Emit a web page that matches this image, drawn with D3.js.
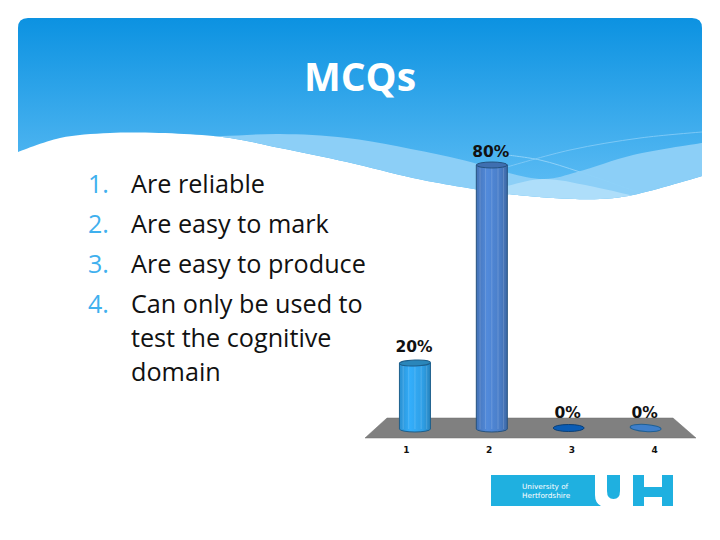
<!DOCTYPE html>
<html>
<head>
<meta charset="utf-8">
<script src="https://cdn.jsdelivr.net/npm/d3@7"></script>
<style>
	html, body { margin: 0; padding: 0; background: #fff; }
	svg { display: block; }
	text { font-family: "Open Sans", sans-serif; }
</style>
</head>
<body>
<svg id="slide" width="720" height="540"></svg>
<script>
// Chart data
const categories = ["1", "2", "3", "4"];
const percents = [20, 80, 0, 0];
const barColors = ["#2f9fe6", "#4a7ec8", "#0a5cb5", "#3f7fca"];
const barEdges = ["#1d5f8c", "#25527f", "#0b3f75", "#1f5f94"];
const barTops = ["#2a86ba", "#3f6fb0", "#0a5cb5", "#3f7fca"];
const capTilts = [-2, 0, 0, 4];
const labelGaps = [11, 8.5, 11, 11];

// Slide text
const title = "MCQs";
const listNumbers = ["1.", "2.", "3.", "4."];
const listLines = [
	["Are reliable"],
	["Are easy to mark"],
	["Are easy to produce"],
	["Can only be used to", "test the cognitive", "domain"]
];
const ridgeOffsets = [0.12, 0.3, 0.5, 0.7, 0.88];

const svg = d3.select("#slide");
const defs = svg.append("defs");

/* Header */
const headerGradient = defs.append("linearGradient")
	.attr("id", "headerGradient")
	.attr("gradientUnits", "userSpaceOnUse")
	.attr("x1", 0).attr("y1", 18).attr("x2", 0).attr("y2", 190);
headerGradient.append("stop").attr("offset", 0).attr("stop-color", "#0c92e1");
headerGradient.append("stop").attr("offset", 1).attr("stop-color", "#5cbcf4");

const curve = d3.line().curve(d3.curveCatmullRom.alpha(0.5));

const lowerEdge = [[18, 152], [60, 138], [110, 133], [184, 134], [230, 138], [280, 148], [347, 162], [413, 178], [450, 185], [507, 194], [553, 198], [600, 199], [633, 195], [702, 176]];
const upperEdge = [[185, 136], [222, 136], [280, 134], [347, 138], [450, 157], [543, 179]];
const riseEdge = [[543, 179], [577, 172], [633, 155], [702, 143]];

const headerPath = "M18,28 Q18,18 28,18 L692,18 Q702,18 702,28 L702,176 " +
	curve(lowerEdge.slice().reverse()).replace(/^M[^CL]*/, "") + " Z";
svg.append("path").attr("d", headerPath).attr("fill", "url(#headerGradient)");

defs.append("clipPath").attr("id", "headerClip")
	.append("path").attr("d", headerPath);
const waves = svg.append("g").attr("clip-path", "url(#headerClip)");

// Pale band running under the darker header colour
const bandTop = upperEdge.concat(riseEdge.slice(1));
waves.append("path")
	.attr("d", curve(bandTop) + " L702,220 L185,220 Z")
	.attr("fill", "#8ccff7");
waves.append("path")
	.attr("d", curve([[470, 196], [507, 186], [543, 179], [590, 186], [650, 200]]) + " L650,220 L470,220 Z")
	.attr("fill", "#aedefa");
waves.append("path")
	.attr("d", curve([[507, 167], [570, 150], [640, 138], [702, 132]]))
	.attr("fill", "none").attr("stroke", "#7cc8f6").attr("stroke-width", 1);
waves.append("path")
	.attr("d", curve([[507, 155], [540, 160], [580, 172], [640, 193]]))
	.attr("fill", "none").attr("stroke", "#8ed1f8").attr("stroke-width", 1);

svg.append("text")
	.attr("x", 360).attr("y", 91)
	.attr("text-anchor", "middle")
	.attr("fill", "#fff")
	.attr("font-size", 39)
	.attr("font-weight", 700)
	.text(title);

/* List */
const lineStep = 34;
const itemTops = [193, 233, 273, 313];
const list = svg.append("g").selectAll("g")
	.data(listLines)
	.join("g")
	.attr("transform", function(d, i) { return "translate(0," + itemTops[i] + ")"; });
list.append("text")
	.attr("x", 88)
	.attr("fill", "#3fb0ee")
	.attr("font-size", 25)
	.text(function(d, i) { return listNumbers[i]; });
list.selectAll(".row")
	.data(function(d) { return d; })
	.join("text")
	.classed("row", true)
	.attr("x", 131)
	.attr("y", function(d, i) { return i * lineStep; })
	.attr("fill", "#111")
	.attr("font-size", 25.2)
	.text(function(d) { return d; });

/* Chart */
const xBars = d3.scaleBand().domain(categories).range([376.5, 684]);
const xTicks = d3.scaleBand().domain(categories).range([365, 696]);
const yScale = d3.scaleLinear().domain([0, 80]).range([429, 165]);
const barWidth = 31;
const capRy = 3;

svg.append("polygon")
	.attr("points", [[365, 438], [387, 418], [673, 418], [696, 438]].join(" "))
	.attr("fill", "#808080")
	.attr("stroke", "#6c6c6c")
	.attr("stroke-width", 0.5);

categories.forEach(function(c, i) {
	const gradient = defs.append("linearGradient").attr("id", "barGradient" + i);
	const base = d3.color(barColors[i]);
	gradient.append("stop").attr("offset", 0).attr("stop-color", base.darker(0.25));
	gradient.append("stop").attr("offset", 0.35).attr("stop-color", base.brighter(0.25));
	gradient.append("stop").attr("offset", 0.75).attr("stop-color", base);
	gradient.append("stop").attr("offset", 1).attr("stop-color", base.darker(0.5));
});

const bars = svg.append("g").selectAll("g")
	.data(percents.map(function(v, i) { return { key: categories[i], value: v, i: i }; }))
	.join("g")
	.attr("transform", function(d) { return "translate(" + (xBars(d.key) + xBars.bandwidth() / 2) + ",0)"; });

// Cylinders for the non-zero values
bars.filter(function(d) { return d.value > 0; })
	.append("path")
	.attr("d", function(d) {
		const r = barWidth / 2;
		return "M" + (-r) + "," + yScale(d.value) +
			" L" + (-r) + "," + yScale(0) +
			" A" + r + "," + capRy + " 0 0 0 " + r + "," + yScale(0) +
			" L" + r + "," + yScale(d.value) + " Z";
	})
	.attr("fill", function(d) { return "url(#barGradient" + d.i + ")"; })
	.attr("stroke", function(d) { return barEdges[d.i]; })
	.attr("stroke-width", 1);

bars.filter(function(d) { return d.value > 0; })
	.selectAll(".ridge")
	.data(function(d) { return ridgeOffsets.map(function(o) { return { o: o, value: d.value }; }); })
	.join("line")
	.classed("ridge", true)
	.attr("x1", function(d) { return (d.o - 0.5) * barWidth; })
	.attr("x2", function(d) { return (d.o - 0.5) * barWidth; })
	.attr("y1", function(d) { return yScale(d.value) + capRy; })
	.attr("y2", yScale(0))
	.attr("stroke", "#fff")
	.attr("stroke-opacity", 0.16)
	.attr("stroke-width", 1);

bars.append("ellipse")
	.attr("cy", function(d) { return yScale(d.value) - (d.value > 0 ? 0 : 1); })
	.attr("rx", barWidth / 2)
	.attr("ry", function(d) { return d.value > 0 ? capRy : 3.5; })
	.attr("transform", function(d) { return "rotate(" + capTilts[d.i] + " 0 " + yScale(d.value) + ")"; })
	.attr("fill", function(d) { return barTops[d.i]; })
	.attr("stroke", function(d) { return barEdges[d.i]; })
	.attr("stroke-width", 1);

bars.append("text")
	.attr("x", -1)
	.attr("y", function(d) { return yScale(d.value) - labelGaps[d.i]; })
	.attr("text-anchor", "middle")
	.attr("fill", "#111")
	.style("font-family", "'DejaVu Sans', sans-serif")
	.attr("font-size", 15.5)
	.attr("font-weight", 700)
	.text(function(d) { return d.value + "%"; });

// Category axis along the front edge of the floor
const axis = svg.append("g")
	.attr("transform", "translate(0,447)")
	.call(d3.axisBottom(xTicks).tickSize(0).tickPadding(0));
axis.select(".domain").remove();
axis.selectAll("text")
	.attr("fill", "#111")
	.style("font-family", "'DejaVu Sans', sans-serif")
	.style("font-weight", 700)
	.style("font-size", "9px");

/* Logo */
const logo = svg.append("g").attr("fill", "#1fb0e0");
logo.append("path")
	.attr("d", "M491,475 L595,475 L595,495 Q595,503 601,506 L491,506 Z");
logo.append("path")
	.attr("d", "M607,475 L620,475 L620,491 Q620,499 613.5,499 Q607,499 607,491 Z");
logo.append("path")
	.attr("d", "M633,475 L644,475 L644,487 L662,487 L662,475 L673,475 L673,506 L662,506 L662,497 L644,497 L644,506 L633,506 Z");
const logoText = ["University of", "Hertfordshire"];
svg.append("g").selectAll("text")
	.data(logoText)
	.join("text")
	.attr("x", 522)
	.attr("y", function(d, i) { return 489 + i * 8.6; })
	.attr("fill", "#fff")
	.style("font-family", "'DejaVu Sans', sans-serif")
	.attr("font-size", 7.3)
	.text(function(d) { return d; });
</script>
</body>
</html>
